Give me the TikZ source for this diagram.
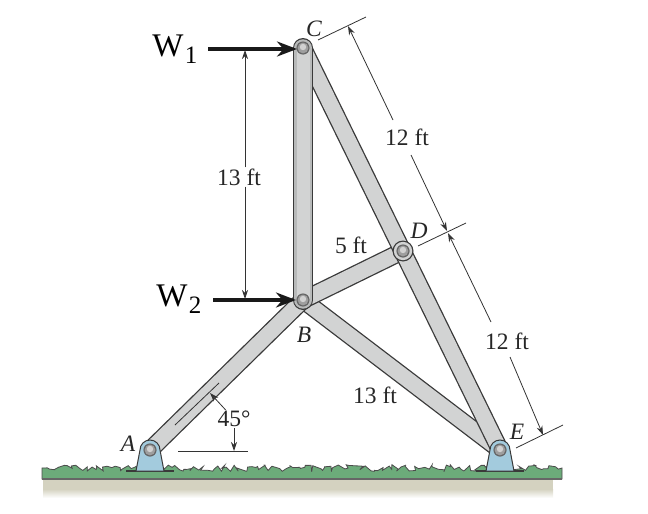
\documentclass[tikz,border=0pt]{standalone}
\usepackage{fontspec}
\setmainfont{Liberation Serif}
\usetikzlibrary{arrows.meta,decorations.pathmorphing}
\definecolor{barfill}{HTML}{D2D3D3}
\definecolor{barmid}{HTML}{B8BABA}
\definecolor{baredge}{HTML}{3A3A3A}
\definecolor{lugblue}{HTML}{A3CBDD}
\definecolor{grass}{HTML}{6CAB7A}
\definecolor{soil}{HTML}{D4D2C0}
\tikzset{
  dimtext/.style={font=\fontsize{23.5}{25}\selectfont,inner sep=1pt,text=black!85},
  jointname/.style={font=\fontsize{23.5}{25}\selectfont\itshape,inner sep=0pt,text=black!85},
  dimline/.style={draw=black!80,line width=0.8pt},
  dimarrow/.style={dimline,-{Stealth[length=9pt,width=6pt]}},
  loadarrow/.style={draw=black!90,line width=3.6pt,-{Stealth[length=20pt,width=15pt]}},
  loadname/.style={font=\fontsize{33}{35}\selectfont,inner sep=0pt,text=black},
  loadsub/.style={font=\fontsize{25}{27}\selectfont,inner sep=0pt,text=black},
  baredgeline/.style={draw=baredge,line width=18pt},
  barmiddle/.style={draw=barfill,line width=15.4pt},
}
\newcommand{\drawbar}[2]{
  \draw[baredgeline] (#1) -- (#2);
  \draw[barmiddle] (#1) -- (#2);
}
\newcommand{\drawpin}[1]{
  \fill[black!60] (#1) circle[radius=6.6pt];
  \fill[black!38] (#1) circle[radius=5.4pt];
  \fill[black!18] ([yshift=1pt]#1) circle[radius=3.2pt];
}
\newcommand{\drawcollar}[1]{
  \fill[baredge] (#1) circle[radius=10.5pt];
  \fill[barfill] (#1) circle[radius=9.2pt];
}
\newcommand{\drawlug}[1]{
  \draw[baredge,line width=1.6pt] ([shift={(-24,21)}]#1) -- ([shift={(24,21)}]#1);
  \filldraw[fill=lugblue,draw=baredge,line width=1pt]
    ([shift={(-14,21)}]#1) -- ([shift={(-10,0)}]#1)
    arc[start angle=180,end angle=360,radius=10] -- ([shift={(14,21)}]#1) -- cycle;
}
\begin{document}
\begin{tikzpicture}[x=1pt,y=-1pt]
\useasboundingbox (0,0) rectangle (648,514);
\coordinate (A) at (150,450);
\coordinate (B) at (303,300);
\coordinate (C) at (303,48);
\coordinate (D) at (403,251);
\coordinate (E) at (500,450);
% ground
\fill[soil] (43,478) rectangle (553,489);
\shade[top color=soil,bottom color=white] (43,489) rectangle (553,498);
\pgfmathsetseed{11}
\filldraw[fill=grass,draw=black!70,line width=0.8pt] (42,479) -- (42,468)
  decorate[decoration={random steps,segment length=3pt,amplitude=3.4pt}] { -- (562,468) }
  -- (562,479) -- cycle;
\fill[grass] (43,472) rectangle (561,478);
\draw[black!60,line width=1.2pt] (42,479) -- (562,479);
% members
\drawbar{B}{E}
\drawbar{A}{B}
\drawbar{B}{D}
\drawbar{C}{E}
\drawcollar{D}
\draw[draw=baredge,line width=20pt,line cap=round] (B) -- (C);
\draw[draw=barmid,line width=17.4pt,line cap=round] (B) -- (C);
\draw[draw=barfill,line width=13pt,line cap=round] (B) -- (C);
\drawlug{A}
\drawlug{E}
\drawpin{A}
\drawpin{B}
\drawpin{C}
\drawpin{D}
\drawpin{E}
% loads
\node[loadname] (w1) at (168,46) {W};
\node[loadsub] (w1sub) at (191,55) {1};
\node[loadname] (w2) at (172,296) {W};
\node[loadsub] (w2sub) at (195,305) {2};
\coordinate (w1tail) at (208,49);
\coordinate (w1tip) at (297,49);
\coordinate (w2tail) at (213,300);
\coordinate (w2tip) at (296,300);
\draw[loadarrow] (w1tail) -- (w1tip);
\draw[loadarrow] (w2tail) -- (w2tip);
% 13 ft
\node[dimtext] (hlabel) at (239,177) {13 ft};
\coordinate (htop) at (245,50);
\coordinate (hbot) at (245,299);
\draw[dimarrow] (htop |- hlabel.north) -- (htop);
\draw[dimarrow] (hbot |- hlabel.south) -- (hbot);
% 12 ft and 12 ft
\coordinate (cs) at (318,40);
\coordinate (ct) at (366,17);
\coordinate (ds) at (418,246);
\coordinate (dt) at (466,223);
\coordinate (es) at (516,448);
\coordinate (et) at (563,425);
\draw[dimline] (cs) -- (ct);
\draw[dimline] (ds) -- (dt);
\draw[dimline] (es) -- (et);
\node[dimtext] (ulabel) at (407,137) {12 ft};
\node[dimtext] (llabel) at (507,341) {12 ft};
\coordinate (cend) at (348,26);
\coordinate (dup) at (447,231);
\coordinate (ddown) at (448,233);
\coordinate (eend) at (543,435);
\coordinate (ua) at (393,120);
\coordinate (ub) at (411,155);
\coordinate (la) at (491,322);
\coordinate (lb) at (510,357);
\draw[dimarrow] (ua) -- (cend);
\draw[dimarrow] (ub) -- (dup);
\draw[dimarrow] (la) -- (ddown);
\draw[dimarrow] (lb) -- (eend);
% member labels
\node[dimtext] (bd) at (351,245) {5 ft};
\node[dimtext] (be) at (375,395) {13 ft};
% angle
\node[dimtext] (ang) at (234,419) {45°};
\coordinate (hs) at (178,451);
\coordinate (he) at (248,451);
\coordinate (ll) at (175,425);
\coordinate (lu) at (219,383);
\coordinate (atip) at (210,393);
\coordinate (btip) at (234,451);
\draw[dimline] (hs) -- (he);
\draw[dimline] (ll) -- (lu);
\draw[dimarrow] (ang) -- (btip);
\draw[dimarrow] (ang) -- (atip);
% joints
\node[jointname] (Aname) at (128,444) {A};
\node[jointname] (Bname) at (304,335) {B};
\node[jointname] (Cname) at (314,29) {C};
\node[jointname] (Dname) at (419,231) {D};
\node[jointname] (Ename) at (517,432) {E};
\end{tikzpicture}
\end{document}
